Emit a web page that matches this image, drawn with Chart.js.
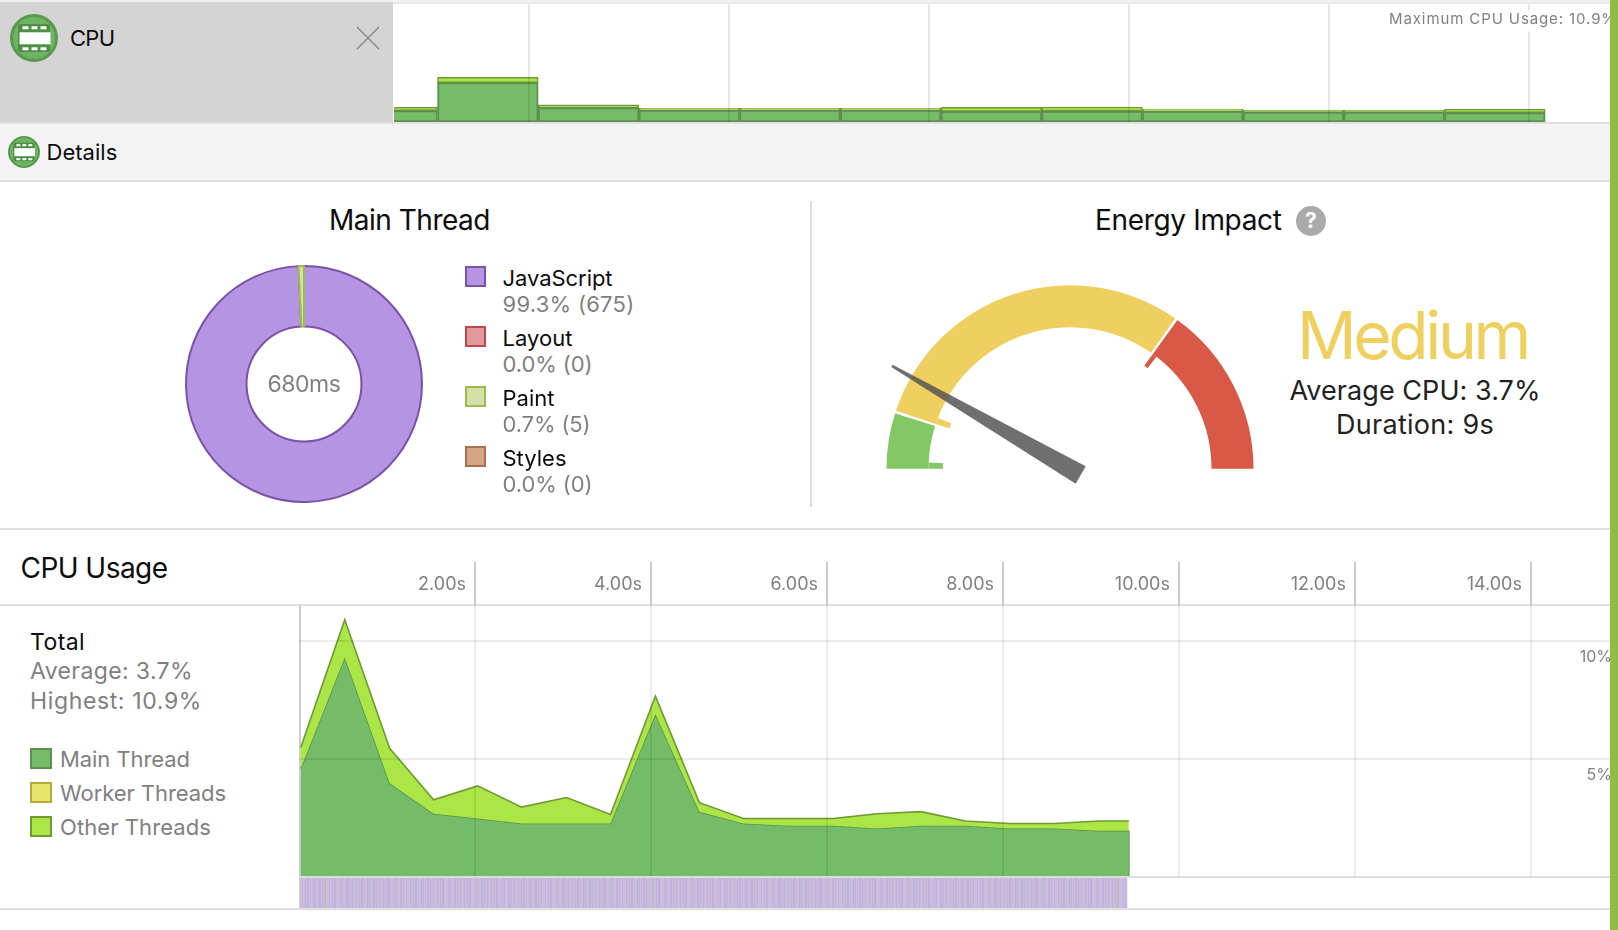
<!DOCTYPE html>
<html><head><meta charset="utf-8">
<style>
html,body{margin:0;padding:0;background:#fff;width:1618px;height:930px;overflow:hidden;font-family:Inter,"Noto Sans",sans-serif}
.a{position:absolute}
.t{position:absolute;white-space:nowrap;line-height:1;transform:translateY(-50%)}
canvas{position:absolute;display:block}
</style>
<script src="https://cdn.jsdelivr.net/npm/chart.js@4/dist/chart.umd.min.js"></script>
</head><body>
<script>
// ---- data ----
const stripBins = [0,1,2,3,4,5,6,7,8,9,10,11];
const stripMain = [2.76,9.59,3.5,2.93,2.93,2.93,2.6,2.68,2.68,2.44,2.44,2.27];
const stripOther = [0.83,1.31,0.7,0.41,0.41,0.41,0.99,0.98,0.42,0.49,0.49,0.83];
const stripGridTicks = [1.409,3.395,5.381,7.367,9.353,11.339];

const threadCategories = ['JavaScript','Layout','Paint','Styles'];
const threadValues = [675,0,5,0];
const threadPercents = ['99.3%','0.0%','0.7%','0.0%'];

const gaugeZones = [9.8,0.45,59.2,0.45,30.1];
const gaugeTabs = [1.4,8.85,1.4,58.25,1.0,29.1];
const gaugeNeedle = 16.8;

const sampleTimes = [0.02,0.52,1.03,1.53,2.03,2.53,3.04,3.54,4.05,4.55,5.05,5.56,6.07,6.57,7.07,7.57,8.07,8.59,9.08,9.43];
const mainThread = [4.6,9.3,3.97,2.68,2.48,2.27,2.27,2.27,6.9,2.76,2.27,2.17,2.17,2.06,2.17,2.17,2.06,2.06,1.96,1.96];
const totalUsage = [5.49,10.9,5.45,3.27,3.86,2.96,3.37,2.65,7.66,3.15,2.48,2.48,2.48,2.68,2.77,2.37,2.27,2.27,2.37,2.37];
const timeTicks = [0,2,4,6,8,10,12,14];
const usageTicks = [0,5,10];
const trackSpan = [0.016,9.41];
const trackMarkers = [0.29,4.02,9.31];

// ---- helpers ----
const body = document.body;
function box(x,y,w,h,bg,z){const d=document.createElement('div');d.className='a';
  d.style.cssText=`left:${x}px;top:${y}px;width:${w}px;height:${h}px;background:${bg};${z?'z-index:'+z:''}`;body.appendChild(d);return d;}
function text(s,x,cy,size,color,target,opt={}){const d=document.createElement('div');d.className='t';d.textContent=s;
  d.style.cssText=`left:${x}px;top:${cy}px;font-size:${size}px;color:${color};${opt.css||''}`;body.appendChild(d);
  if(target){const w=d.getBoundingClientRect().width;d.style.letterSpacing=((target-w)/s.length)+'px';}
  return d;}
function canvas(x,y,w,h,z){const c=document.createElement('canvas');c.width=w;c.height=h;
  c.style.cssText=`left:${x}px;top:${y}px;width:${w}px;height:${h}px;${z?'z-index:'+z:''}`;body.appendChild(c);return c;}
function chip(cx,cy,r){const s=document.createElementNS('http://www.w3.org/2000/svg','svg');
  s.setAttribute('viewBox','-24 -24 48 48');s.setAttribute('class','a');
  s.style.cssText=`left:${cx-r}px;top:${cy-r}px;width:${2*r}px;height:${2*r}px`;
  s.innerHTML=`<circle r="22.5" fill="#6db562" stroke="#5a9a50" stroke-width="3"/>
  <rect x="-16" y="-14" width="32" height="28" rx="2" fill="#4e8f47"/>
  <rect x="-14.5" y="-5.7" width="31" height="12" fill="#fff"/>
  <rect x="-11.5" y="-11.7" width="6" height="3" fill="#fff"/><rect x="-2.5" y="-11.7" width="6" height="3" fill="#fff"/><rect x="6.5" y="-11.7" width="6" height="3" fill="#fff"/>
  <rect x="-11.5" y="9.3" width="6" height="3" fill="#fff"/><rect x="-2.5" y="9.3" width="6" height="3" fill="#fff"/><rect x="6.5" y="9.3" width="6" height="3" fill="#fff"/>`;
  body.appendChild(s);}
Chart.defaults.font.family='Inter, "Noto Sans", sans-serif';
Chart.defaults.animation=false;
Chart.defaults.responsive=false;
Chart.defaults.plugins.legend.display=false;
Chart.defaults.plugins.tooltip.enabled=false;

const GREEN='#75bc68', GREEN_L='#5f8f50', LIME='#abe546', LIME_L='#6f9a33', GREY='#808080', INK='#0c0c0c', RULE='#dfdfdf';

// ---- chrome ----
box(0,0,1618,2,'#f0f0f0');
box(0,2,393,120,'#d4d4d4');
box(393,2,1225,2,'#e9e9e9');
box(0,122,1618,2,RULE);
box(0,124,1618,56,'#f3f3f3');
box(0,180,1618,2,RULE);
box(810,201,1.5,306,'#dcdcdc');
box(0,528,1610,1.5,RULE);
box(0,603.5,1610,2,RULE);
box(299,605,2,303,'#cdcdcd');
box(0,908,1610,2,RULE);
box(1610,0,8,930,'#8fbc44',5);

chip(33.6,37.7,24);
text('CPU',70,38,22,INK,44.4);
const x1=document.createElementNS('http://www.w3.org/2000/svg','svg');x1.setAttribute('class','a');
x1.style.cssText='left:356px;top:26px;width:24px;height:24px';
x1.innerHTML='<path d="M1 1L23 23M23 1L1 23" stroke="#8a8a8a" stroke-width="1.5" fill="none"/>';body.appendChild(x1);
chip(23.8,151.7,16);
text('Details',46.5,152,22,INK,70.8);

// ---- top strip ----
new Chart(canvas(394,4,1224,118),{type:'bar',
  data:{datasets:[
    {label:'Main Thread',data:stripBins.map((x,i)=>({x,y:stripMain[i]})),backgroundColor:GREEN,borderColor:GREEN_L,borderWidth:2,borderSkipped:false,stack:'s'},
    {label:'Other Threads',data:stripBins.map((x,i)=>({x,y:stripOther[i]})),backgroundColor:LIME,borderColor:LIME_L,borderWidth:1.5,borderSkipped:false,stack:'s'}]},
  options:{layout:{padding:0},barPercentage:1,categoryPercentage:1,
    scales:{
      x:{type:'linear',offset:false,min:0.068,max:12.223,stacked:true,border:{display:false},
        afterBuildTicks:s=>{s.ticks=stripGridTicks.map(value=>({value}));},
        ticks:{display:false},grid:{offset:false,drawTicks:false,z:1,color:'rgba(0,0,0,0.09)',lineWidth:2}},
      y:{min:0,max:28.78,stacked:true,display:false}}}});
text('Maximum CPU Usage: 10.9%',1389,20.5,15,GREY,228,{css:'background:#fff;padding-bottom:6px;'});

// ---- main thread ----
text('Main Thread',329,220,28,INK,161);
const sliceFill=['#b595e3','#e09a9a','#d3e0a8','#d4a585'];
const sliceEdge=['#7b52a8','#bb4a4a','#9dbb4c','#a8704e'];
new Chart(canvas(184,264,240,240),{type:'doughnut',
  data:{labels:threadCategories,datasets:[{data:threadValues,backgroundColor:sliceFill,borderColor:sliceEdge,borderWidth:2}]},
  options:{radius:118,cutout:'48.7%',rotation:0,layout:{padding:0}}});
text('680ms',267.5,384,23,GREY,73);
threadCategories.forEach((c,i)=>{
  const y=266+60*i;
  const sq=box(464.5,y,21.5,21,sliceFill[i]);sq.style.boxSizing='border-box';sq.style.border='2px solid '+sliceEdge[i];
  text(c,502.5,y+11.5,22,INK,[110,70,52,64][i]);
  text(`${threadPercents[i]} (${threadValues[i]})`,502.5,y+37.5,22,GREY,[132,90,88,90][i]);
});

// ---- energy gauge ----
text('Energy Impact',1095,220,28,INK,186.6);
const q=document.createElement('div');q.className='a';
q.style.cssText='left:1296px;top:206px;width:30px;height:30px;border-radius:50%;background:#aaa;color:#fff;font-size:21px;font-weight:700;line-height:30px;text-align:center';
q.textContent='?';body.appendChild(q);
const needle={id:'needle',afterDatasetsDraw(ch){
  const arc=ch.getDatasetMeta(0).data[0];const a=-Math.PI+Math.PI*gaugeNeedle/100;
  const c=ch.ctx;c.save();c.translate(arc.x,arc.y);c.rotate(a);c.fillStyle='rgba(82,82,82,0.83)';
  c.beginPath();c.moveTo(-12.4,-10);c.lineTo(205.7,-2);c.lineTo(205.7,0.6);c.lineTo(-12.4,10);c.closePath();c.fill();c.restore();}};
new Chart(canvas(870,177,400,400),{type:'doughnut',plugins:[needle],
  data:{datasets:[
    {data:gaugeZones,backgroundColor:['#82c864','#ffffff','#efcf60','#ffffff','#d85945'],borderWidth:0,weight:42},
    {data:gaugeTabs,backgroundColor:['#82c864','rgba(0,0,0,0)','#efcf60','rgba(0,0,0,0)','#d85945','rgba(0,0,0,0)'],borderWidth:0,weight:14.5}]},
  options:{radius:183.5,cutout:'69.2%',rotation:-90,circumference:180,layout:{padding:0}}});
text('Medium',1297,335,66,'#efd05f',231);
text('Average CPU: 3.7%',1289.5,390,27,'#222',251);
text('Duration: 9s',1336,424,27,'#222',158);

// ---- cpu usage ----
text('CPU Usage',20.5,568,28,INK,147);
text('Total',30,641.7,23,INK,55);
text('Average: 3.7%',30,670.7,23,GREY,163);
text('Highest: 10.9%',30,700.7,23,GREY,172);
[['Main Thread',GREEN,GREEN_L,130],['Worker Threads','#e8e46c','#b5a93a',166],['Other Threads',LIME,LIME_L,151]].forEach((r,i)=>{
  const y=747.5+34*i;const sq=box(30,y,21.5,21.5,r[1]);sq.style.boxSizing='border-box';sq.style.border='2px solid '+r[2];
  text(r[0],60,y+11.5,22,GREY,r[3]);
});

const pts=a=>sampleTimes.map((x,i)=>({x,y:a[i]}));
const lastT=sampleTimes[sampleTimes.length-1];
const lastM=mainThread[mainThread.length-1];
new Chart(canvas(299,555,1319,325),{type:'line',
  data:{datasets:[
    {label:'Total',data:pts(totalUsage),fill:'+1',backgroundColor:LIME,borderColor:LIME_L,borderWidth:1.6,pointRadius:0,tension:0},
    {label:'Main Thread',data:pts(mainThread),fill:'origin',backgroundColor:GREEN,borderColor:GREEN_L,borderWidth:1.6,pointRadius:0,tension:0},
    {label:'Edge',data:[{x:sampleTimes[0],y:0.07},{x:lastT,y:0.07},{x:lastT,y:lastM}],fill:false,borderColor:GREEN_L,borderWidth:1.6,pointRadius:0,tension:0}]},
  options:{layout:{padding:{bottom:3}},
    scales:{
      x:{type:'linear',position:'top',min:0,max:14.989,border:{display:false},
        afterBuildTicks:s=>{s.ticks=timeTicks.map(value=>({value}));},
        afterFit:s=>{s.height=50;s.paddingLeft=0;s.paddingRight=0;s.paddingTop=0;s.paddingBottom=0;},
        ticks:{autoSkip:false,maxRotation:0,align:'end',labelOffset:-9,padding:-33.5,color:GREY,font:{size:18},
          callback:v=>v===0?'':v.toFixed(2)+'s'},
        grid:{z:1,lineWidth:2,color:c=>c.tick&&c.tick.value===0?'rgba(0,0,0,0)':'rgba(0,0,0,0.075)',tickLength:43,tickWidth:2,
          tickColor:c=>c.tick&&c.tick.value===0?'rgba(0,0,0,0)':'#c9c9c9'}},
      y:{position:'right',min:0,max:11.525,border:{display:false},
        afterBuildTicks:s=>{s.ticks=usageTicks.map(value=>({value}));},
        afterFit:s=>{s.width=0;s.paddingTop=0;s.paddingBottom=0;s.paddingLeft=0;s.paddingRight=0;},
        ticks:{mirror:true,padding:-6,labelOffset:16,color:GREY,font:{size:16},callback:v=>v===0?'':v+'%'},
        grid:{z:1,drawTicks:false,lineWidth:2,color:c=>c.tick&&c.tick.value===0?'#dddddd':'rgba(0,0,0,0.075)'}}}}});

// main-thread event track
const stripeWidths=[3,1,2,1,1,2,4,1,1,1,3,2,1,1,2,1];
const stripeTones=['#cbbde0','#c2b2da'];
const pc=document.createElement('canvas');pc.width=stripeWidths.reduce((a,b)=>a+b,0);pc.height=4;
{const g=pc.getContext('2d');let px=0;stripeWidths.forEach((w,i)=>{g.fillStyle=stripeTones[i%2];g.fillRect(px,0,w,4);px+=w;});}
const tc=canvas(299,878,1319,30);
const pattern=tc.getContext('2d').createPattern(pc,'repeat');
new Chart(tc,{type:'bar',
  data:{labels:['Main thread tasks'],datasets:[{data:[trackSpan],backgroundColor:pattern,borderWidth:0}]},
  options:{indexAxis:'y',barPercentage:1,categoryPercentage:1,layout:{padding:0},
    scales:{
      x:{type:'linear',min:0,max:14.989,border:{display:false},
        afterBuildTicks:s=>{s.ticks=trackMarkers.map(value=>({value}));},
        afterFit:s=>{s.height=0;s.paddingLeft=0;s.paddingRight=0;},
        ticks:{display:false},grid:{z:1,drawTicks:false,color:'#bfbdb8',lineWidth:2}},
      y:{display:false}}}});
</script>
</body></html>
